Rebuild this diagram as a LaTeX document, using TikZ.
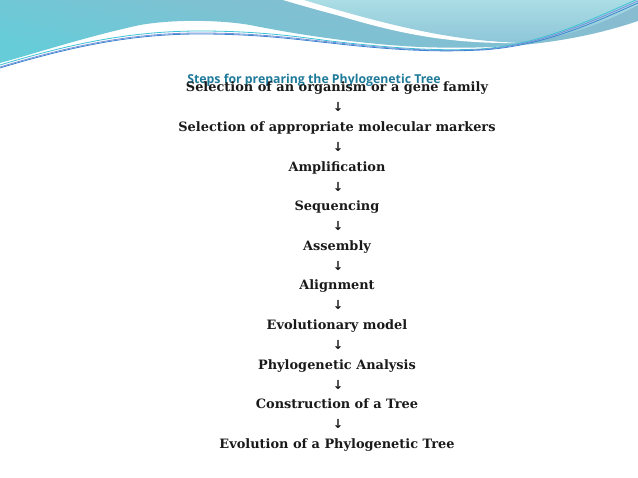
\documentclass[tikz,border=0pt]{standalone}
\usepackage{fontspec}
\setmainfont{DejaVu Serif}
\newfontfamily\titlefont{Open Sans}
\newfontfamily\arrowfont{DejaVu Sans}
\definecolor{tealA}{HTML}{66CCD8}
\definecolor{tealB}{HTML}{88BCD0}
\definecolor{paleA}{HTML}{AADDE4}
\definecolor{paleB}{HTML}{8EC6D9}
\definecolor{lineC}{HTML}{3CC4D4}
\definecolor{lineB}{HTML}{3C86D2}
\definecolor{lineP}{HTML}{7A8FD8}
\definecolor{titlecol}{HTML}{1F7A9A}
\definecolor{textcol}{HTML}{1A1A1A}
\begin{document}
\begin{tikzpicture}[x=1pt,y=-1pt,
  steptext/.style={anchor=base,font=\fontsize{12.9}{15}\selectfont\bfseries,text=textcol,inner sep=0pt},
  downarrow/.style={anchor=base,font=\arrowfont\fontsize{12.5}{14}\selectfont\bfseries,text=textcol,inner sep=0pt},
  wave/.style={line width=0.8pt}]
\useasboundingbox (0,0) rectangle (638,478);
\fill[white] (0,0) rectangle (638,478);
% big teal shape
\shade[top color=tealB,bottom color=tealA,middle color=tealB!70!tealA,shading angle=-15]
  (0,0) -- (638,0) -- (638,21)
  .. controls (570,44) and (500,50) .. (420,47)
  .. controls (360,44) and (300,35) .. (250,25)
  .. controls (220,20) and (175,19) .. (140,25)
  .. controls (85,37) and (40,52) .. (0,63) -- cycle;
% white stripe
\fill[white] (283,0) -- (310,0)
  .. controls (380,20) and (450,40) .. (520,43)
  .. controls (450,44) and (400,34) .. (340,16)
  .. controls (310,8) and (293,3) .. (283,0) -- cycle;
% pale shape
\shade[top color=paleA,bottom color=paleB]
  (304,0) -- (638,0) -- (638,5)
  .. controls (600,25) and (560,40) .. (515,42)
  .. controls (450,42) and (370,20) .. (304,0) -- cycle;
% thin lines
\draw[wave,lineC] (0,65) .. controls (70,44) and (130,31) .. (200,31)
  .. controls (260,31) and (300,37) .. (330,41)
  .. controls (400,49) and (440,51) .. (480,49)
  .. controls (540,45) and (590,20) .. (638,-1);
\draw[wave,lineP] (0,67) .. controls (70,46) and (130,33) .. (200,33)
  .. controls (260,33) and (300,39) .. (330,42)
  .. controls (400,50) and (440,51.5) .. (481,49.5)
  .. controls (542,45.5) and (592,21) .. (638,1);
\draw[wave,lineB] (0,68) .. controls (70,47) and (130,34) .. (200,34)
  .. controls (260,34) and (300,40) .. (330,43)
  .. controls (400,51) and (440,52) .. (482,50)
  .. controls (545,46) and (595,22) .. (638,3);
% title
\node[anchor=base,inner sep=0pt,font=\titlefont\fontsize{12.3}{14}\selectfont\bfseries,text=titlecol] (title) at (314,84) {Steps for preparing the Phylogenetic Tree};
% steps
\node[steptext] (s1) at (337,92) {Selection of an organism or a gene family};
\node[downarrow] (a1) at (338,112) {↓};
\node[steptext] (s2) at (337,131.6) {Selection of appropriate molecular markers};
\node[downarrow] (a2) at (338,151.6) {↓};
\node[steptext] (s3) at (337,171.2) {Amplification};
\node[downarrow] (a3) at (338,191.2) {↓};
\node[steptext] (s4) at (337,210.8) {Sequencing};
\node[downarrow] (a4) at (338,230.8) {↓};
\node[steptext] (s5) at (337,250.4) {Assembly};
\node[downarrow] (a5) at (338,270.4) {↓};
\node[steptext] (s6) at (337,290.0) {Alignment};
\node[downarrow] (a6) at (338,310.0) {↓};
\node[steptext] (s7) at (337,329.6) {Evolutionary model};
\node[downarrow] (a7) at (338,349.6) {↓};
\node[steptext] (s8) at (337,369.2) {Phylogenetic Analysis};
\node[downarrow] (a8) at (338,389.2) {↓};
\node[steptext] (s9) at (337,408.8) {Construction of a Tree};
\node[downarrow] (a9) at (338,428.8) {↓};
\node[steptext] (s10) at (337,448.4) {Evolution of a Phylogenetic Tree};
\end{tikzpicture}
\end{document}
